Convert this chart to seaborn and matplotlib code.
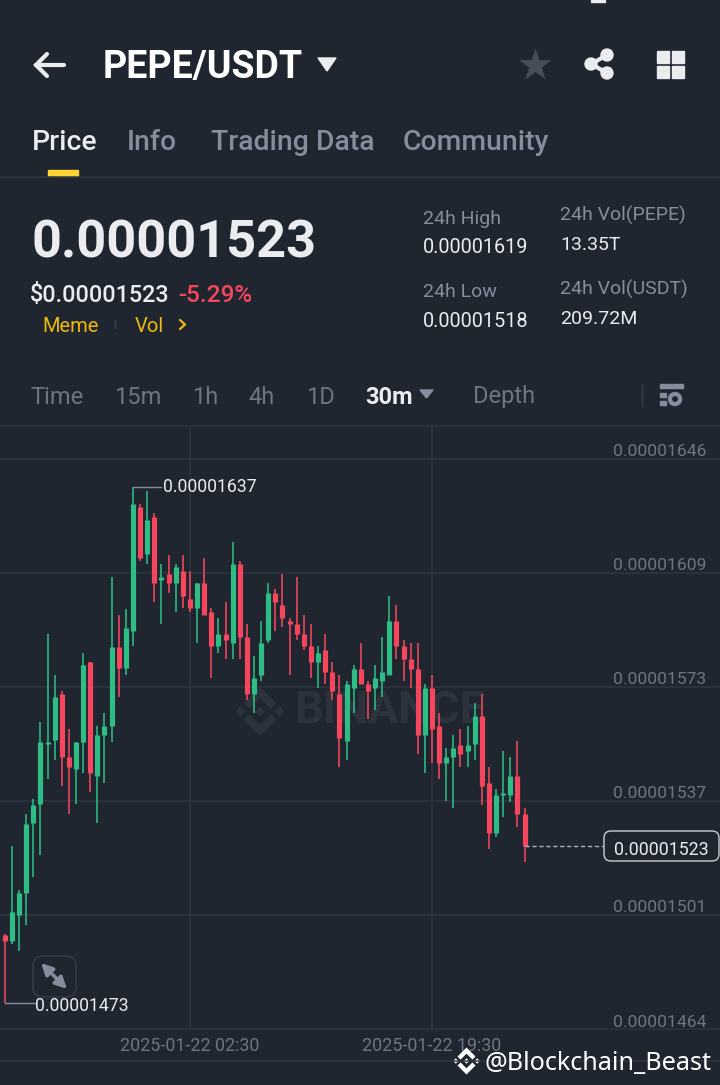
import numpy as np
import pandas as pd
import seaborn as sns
import matplotlib
matplotlib.use("Agg")
import matplotlib.pyplot as plt
from matplotlib.patches import FancyBboxPatch, Polygon, Circle, Rectangle

# candles, prices in units of 1e-8 USDT, oldest first (first one is cut by the left edge)
opens = [1500, 1494.4, 1492.5, 1500.6, 1507.8, 1529.9, 1536, 1555.1, 1556.5, 1571.1, 1550.9, 1547.1, 1555.9,
         1581.2, 1545, 1558.1, 1561, 1586.2, 1579.3, 1591.3, 1630.7, 1615.6, 1627.6, 1607.5, 1609.5, 1606.5,
         1610.4, 1601.4, 1598.4, 1606.4, 1597.4, 1586.3, 1590.3, 1587.3, 1612.6, 1589.4, 1571.2, 1577.3, 1588.3,
         1603.4, 1599.4, 1594.4, 1593.3, 1590.3, 1586.3, 1581.3, 1585.2, 1578.2, 1571.1, 1556, 1573.1, 1579.2,
         1574.2, 1573.1, 1575.2, 1577.2, 1594.4, 1586.3, 1582.3, 1579.2, 1558.1, 1573.1, 1561, 1549, 1551,
         1555, 1553.1, 1555.1, 1564.1, 1542.9, 1526.7, 1538.8, 1538.8, 1544.9, 1532.9]
highs = [1500, 1494.6, 1522.7, 1508.7, 1532.9, 1537.8, 1562.2, 1590.2, 1577.1, 1572.2, 1560, 1555.9, 1584.3,
         1581.2, 1561, 1565, 1608.4, 1596.3, 1598.3, 1637, 1631.7, 1635.7, 1628.7, 1612.6, 1615.5, 1612.6,
         1615.5, 1610.4, 1606.4, 1614.5, 1598.4, 1595.3, 1600.4, 1619.6, 1613.5, 1593.3, 1583.2, 1594.4, 1606.4,
         1604.5, 1609.5, 1595.3, 1608.5, 1596.3, 1593.3, 1586.3, 1590.3, 1581.2, 1577.2, 1575.2, 1580.3, 1587.3,
         1575.2, 1580.3, 1589.3, 1602.4, 1599.4, 1588.3, 1587.3, 1587.3, 1574.2, 1577.2, 1565.1, 1554, 1558.1,
         1560.1, 1561, 1568.2, 1571.1, 1548, 1540.8, 1553, 1550.9, 1556, 1534.8]
lows = [1496, 1472.5, 1491.4, 1489.3, 1497.5, 1512.7, 1519.8, 1543.9, 1550.1, 1541.9, 1532.9, 1536, 1546,
        1540, 1529.9, 1542.9, 1555.9, 1570.3, 1577.3, 1586.4, 1613.6, 1612.6, 1600.4, 1593.3, 1603.4, 1597.4,
        1598.4, 1597.4, 1587.3, 1596.4, 1576.2, 1584.3, 1582.3, 1582.3, 1582.3, 1569.2, 1565.2, 1575.3, 1587.3,
        1591.3, 1592.4, 1577.2, 1588.3, 1585.2, 1576.2, 1573.1, 1574.2, 1569.2, 1548, 1550, 1565.1, 1574.2,
        1563.1, 1566.1, 1570.2, 1577.2, 1582.3, 1575.2, 1573.1, 1552, 1545.9, 1549, 1543.9, 1536.9, 1534.9,
        1548, 1548, 1550, 1535.8, 1521.8, 1525.6, 1531.8, 1536.8, 1528.8, 1517.7]
closes = [1496, 1492.5, 1501.5, 1507.6, 1529.7, 1535.8, 1555.9, 1555.9, 1570.1, 1551.1, 1548, 1555.9, 1580.3,
          1546, 1558.1, 1561, 1586.2, 1579.3, 1592.3, 1631.7, 1614.6, 1626.6, 1606.5, 1608.5, 1606.5, 1611.5,
          1602.5, 1598.4, 1606.4, 1596.4, 1586.3, 1590.3, 1588.3, 1612.6, 1589.4, 1571.2, 1576.2, 1587.3, 1603.4,
          1600.4, 1595.3, 1593.4, 1590.3, 1586.3, 1581.3, 1584.3, 1578.2, 1572.2, 1557.1, 1574.2, 1579.2, 1574.2,
          1572.2, 1576.2, 1578.2, 1594.4, 1586.3, 1582.3, 1579.2, 1558.1, 1573.1, 1560.1, 1549, 1551, 1554,
          1552, 1555, 1564.1, 1541.9, 1526.7, 1538.8, 1539.5, 1544.9, 1532.9, 1522.8]

price_grid = [1646, 1609.7, 1573.4, 1537, 1500.7, 1464.3]
price_labels = ["0.00001646", "0.00001609", "0.00001573", "0.00001537", "0.00001501", "0.00001464"]
time_ticks = [26, 60]
time_labels = ["2025-01-22 02:30", "2025-01-22 19:30"]
tabs = ["Price", "Info", "Trading Data", "Community"]
intervals = ["Time", "15m", "1h", "4h", "1D", "30m", "Depth"]

BG = "#1f2630"
GRID = "#2e3540"
GREEN = "#2ebd85"
RED = "#f6465d"
GREY = "#848e9c"
WHITE = "#eaecef"
YEL = "#f0b90b"
LABEL = "#6d7583"
WM = "#2d333d"

sns.set_theme(style="dark", rc={"figure.facecolor": BG, "axes.facecolor": BG})
plt.rcParams["font.family"] = ["Roboto", "DejaVu Sans"]

fig = plt.figure(figsize=(7.2, 10.85), dpi=100, facecolor=BG)


def pixel_axes(z):
    a = fig.add_axes([0, 0, 1, 1], zorder=z)
    a.set_xlim(0, 720)
    a.set_ylim(1085, 0)
    a.axis("off")
    a.patch.set_alpha(0)
    return a


def binance_logo(a, cx, cy, s, color):
    # s = half height of the mark
    u = s / 24
    for dx in (-19, 0, 19):
        r = 4.8 * u
        xx = cx + dx * u
        a.add_patch(Polygon([(xx - r, cy), (xx, cy - r), (xx + r, cy), (xx, cy + r)], fc=color, ec="none"))
    for sign in (-1, 1):
        pts = [(0, 24), (16, 8), (10.5, 2.5), (0, 13), (-10.5, 2.5), (-16, 8)]
        a.add_patch(Polygon([(cx + p * u, cy + sign * q * u) for p, q in pts], fc=color, ec="none"))


back = pixel_axes(0)
ui = pixel_axes(3)

# price chart, y 427 to 1030 on screen
ax = fig.add_axes([0, 1 - 1030 / 1085, 1, (1030 - 427) / 1085], zorder=1)
ax.patch.set_alpha(0)

idx = np.arange(-1, len(opens) - 1)
df = pd.DataFrame({"i": idx, "open": opens, "high": highs, "low": lows, "close": closes})
df["dir"] = np.where(df["close"] >= df["open"], "up", "down")
pal = {"up": GREEN, "down": RED}

wicks = df.melt(id_vars=["i", "dir"], value_vars=["high", "low"], value_name="price")
bodies = df.melt(id_vars=["i", "dir"], value_vars=["open", "close"], value_name="price")

sns.lineplot(data=wicks, x="i", y="price", hue="dir", palette=pal, units="i", estimator=None,
             lw=1.15, legend=False, ax=ax, solid_capstyle="butt", zorder=3)
sns.lineplot(data=bodies, x="i", y="price", hue="dir", palette=pal, units="i", estimator=None,
             lw=3.7, legend=False, ax=ax, solid_capstyle="butt", zorder=4)

# 7.12 px per candle, candle 0 sits at x=4.8
ax.set_xlim(-4.8 / 7.12, (720 - 4.8) / 7.12)
ax.set_ylim(1792.3 - 0.3187 * 1030, 1792.3 - 0.3187 * 427)
ax.set_xlabel("")
ax.set_ylabel("")
ax.set_xticks(time_ticks)
ax.set_xticklabels(time_labels, color=LABEL, fontsize=12.9)
ax.set_yticks(price_grid)
ax.set_yticklabels([])
ax.tick_params(axis="both", length=0, pad=5)
ax.grid(True, color=GRID, lw=1.1)
for s in ax.spines.values():
    s.set_visible(False)
ax.set_axisbelow(True)

# price labels sit inside the plot above their grid lines
for p, lab in zip(price_grid, price_labels):
    ax.annotate(lab, (1, p), xycoords=("axes fraction", "data"), xytext=(-10, -0.3), textcoords="offset points",
                ha="right", va="bottom", fontsize=12.6, color=LABEL, zorder=6)

# max/min callouts
hi_i = df["i"][df["high"].idxmax()]
lo_i = df["i"][df["low"].idxmin()]
ax.plot([hi_i, hi_i + 3.9], [max(highs)] * 2, color=GREY, lw=1, zorder=5)
ax.annotate("0.00001637", (hi_i + 4.2, max(highs)), color=WHITE, fontsize=12.7, va="center", zorder=6)
ax.plot([lo_i, lo_i + 4.2], [min(lows)] * 2, color=GREY, lw=1, zorder=5)
ax.annotate("0.00001473", (lo_i + 4.2, min(lows)), xytext=(0, -1.5), textcoords="offset points",
            color=WHITE, fontsize=12.7, va="center", zorder=6)
# last price dashed line
ax.plot([len(opens) - 2, 84], [closes[-1]] * 2, color="#aeb4bc", lw=1, ls=(0, (3, 2)), zorder=5)

# watermark under the candles
back.text(294, 711, "BINANCE", fontsize=32.5, fontweight="bold", color=WM, va="center", ha="left")
binance_logo(back, 260, 711.5, 24.5, WM)

# status bar remnant
ui.add_patch(Rectangle((591, 0), 14, 1.5, color=WHITE))

# header
ui.plot([36, 64], [65, 65], color=WHITE, lw=3)
ui.plot([47, 36, 47], [54, 65, 76], color=WHITE, lw=3, solid_joinstyle="miter")
ui.text(103, 68, "PEPE/USDT", fontsize=27, fontweight="bold", color="white", va="center")
ui.add_patch(Polygon([(318, 58), (336, 58), (327, 71)], color=WHITE))
ui.scatter([535], [65], marker="*", s=620, color="#474d57", lw=0)
ui.plot([607, 591, 607], [55, 64, 73], color=WHITE, lw=3)
for cx, cy in [(607, 55), (591, 64), (607, 73)]:
    ui.add_patch(Circle((cx, cy), 6, color=WHITE))
for xx, yy in [(657, 51), (672, 51), (657, 66), (672, 66)]:
    ui.add_patch(Rectangle((xx, yy), 11.5, 11.5, color=WHITE))

# tabs
tab_x = [32, 127, 211, 403]
for t, xx, c in zip(tabs, tab_x, [WHITE, GREY, GREY, GREY]):
    ui.text(xx, 142, t, fontsize=20.4, fontweight="medium", color=c, va="center")
ui.add_patch(Rectangle((48, 170), 30, 6, color="#fcd535"))
ui.plot([0, 720], [177, 177], color=GRID, lw=1.1)

# quote block
ui.text(31, 244, "0.00001523", fontsize=37.6, fontweight="bold", color=WHITE, va="center")
ui.text(30, 295, "$0.00001523", fontsize=16.8, fontweight="medium", color=WHITE, va="center")
ui.text(178, 295, "-5.29%", fontsize=17.5, fontweight="medium", color=RED, va="center")
ui.text(42, 326, "Meme", fontsize=14.5, color=YEL, va="center")
ui.text(135, 326, "Vol", fontsize=14.5, color=YEL, va="center")
ui.plot([115, 115], [320, 328], color="#3a4049", lw=1)
ui.plot([180, 185, 180], [320, 324.5, 329], color=YEL, lw=1.6)

ui.text(423, 219, "24h High", fontsize=14, color=GREY, va="center")
ui.text(423, 247.5, "0.00001619", fontsize=14.3, color=WHITE, va="center")
ui.text(423, 292, "24h Low", fontsize=14, color=GREY, va="center")
ui.text(423, 321.5, "0.00001518", fontsize=14.3, color=WHITE, va="center")
ui.text(560, 215, "24h Vol(PEPE)", fontsize=14, color=GREY, va="center")
ui.text(560, 244.5, "13.35T", fontsize=14, color=WHITE, va="center")
ui.text(560, 289, "24h Vol(USDT)", fontsize=14, color=GREY, va="center")
ui.text(560, 318.5, "209.72M", fontsize=14, color=WHITE, va="center")

# interval row
int_x = [30, 114, 192, 248, 306, 365, 473]
for t, xx in zip(intervals, int_x):
    ui.text(xx, 397, t, fontsize=17, color=WHITE if t == "30m" else LABEL,
            fontweight="bold" if t == "30m" else "normal", va="center")
ui.add_patch(Polygon([(420, 390), (433, 390), (426.5, 398)], color=GREY))
ui.plot([642, 642], [384, 406], color="#3a4049", lw=1)
ui.add_patch(Rectangle((660, 384), 23, 3.5, color=GREY))
ui.add_patch(Rectangle((660, 393), 6, 3.5, color=GREY))
ui.add_patch(Rectangle((660, 401), 6, 3.5, color=GREY))
ui.add_patch(Circle((675, 399), 6.5, color=GREY))
ui.add_patch(Circle((675, 399), 2.2, color=BG))
ui.plot([0, 720], [426, 426], color=GRID, lw=1.1)
ui.plot([0, 720], [1061, 1061], color=GRID, lw=1.1)

# expand button
ui.add_patch(FancyBboxPatch((33, 956), 43, 41, boxstyle="round,pad=0,rounding_size=10", fc=BG, ec="#333a45", lw=1.2))
ui.annotate("", xy=(41, 963), xytext=(54, 976), arrowprops=dict(arrowstyle="-|>", color=GREY, lw=2.5,
                                                                mutation_scale=17, shrinkA=0, shrinkB=0))
ui.annotate("", xy=(67, 989), xytext=(54, 976), arrowprops=dict(arrowstyle="-|>", color=GREY, lw=2.5,
                                                                mutation_scale=17, shrinkA=0, shrinkB=0))

# last price tag
ui.add_patch(FancyBboxPatch((604, 831), 115, 30, boxstyle="round,pad=0,rounding_size=7", fc=BG, ec="#c9ccd1", lw=1))
ui.text(661, 850, "0.00001523", fontsize=12.8, color=WHITE, ha="center", va="center")

# source mark
binance_logo(ui, 466.5, 1061, 13.5, "white")
ui.text(484, 1064, "@Blockchain_Beast", fontsize=18.15, family=["Noto Sans", "DejaVu Sans"], color="white", va="center")

fig.savefig("out.png", dpi=100, facecolor=BG)
